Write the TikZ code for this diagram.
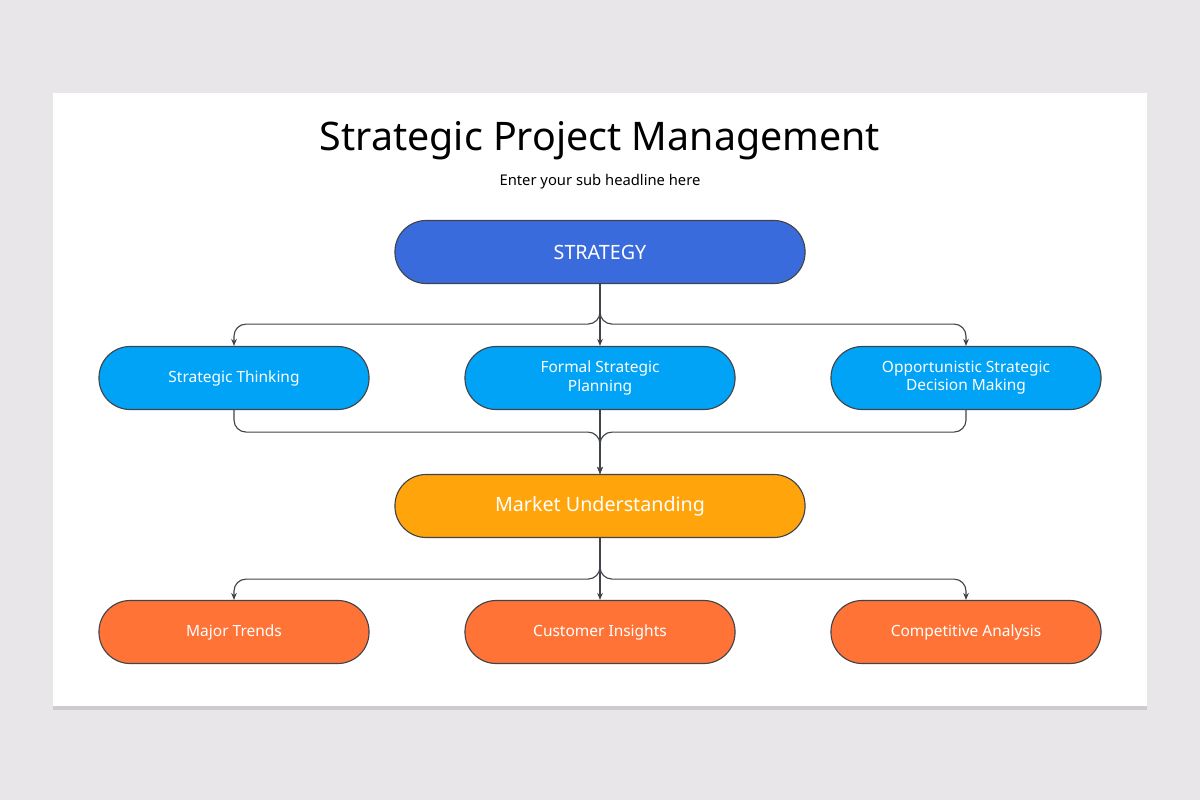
\documentclass[tikz,border=0pt]{standalone}
\usepackage{fontspec}
\setmainfont{Noto Sans}
\usetikzlibrary{positioning,shadows,arrows.meta}
\definecolor{bgGray}{HTML}{E8E6E8}
\definecolor{stratBlue}{HTML}{3A6BDD}
\definecolor{skyBlue}{HTML}{00A3F5}
\definecolor{amber}{HTML}{FFA40A}
\definecolor{coral}{HTML}{FF7337}
\definecolor{edgeGray}{HTML}{404448}
\tikzset{
  pill/.style={draw=edgeGray, thick, rectangle, rounded corners=0.78cm,
    minimum width=6.75cm, minimum height=1.575cm, text=white, align=center,
    font=\fontsize{11}{13}\selectfont},
  bigpill/.style={pill, minimum width=10.25cm, font=\bfseries\fontsize{14}{16}\selectfont},
  link/.style={draw=edgeGray, thick, rounded corners=0.3cm, -{Stealth[length=5pt,width=4pt]}}
}
\begin{document}
\begin{tikzpicture}[x=0.025cm,y=-0.025cm]
  % canvas and card
  \fill[bgGray] (0,0) rectangle (1200,800);
  \fill[white, drop shadow={shadow xshift=0pt,shadow yshift=-3pt,opacity=0.25}] (53,93) rectangle (1147,706);

  \node (title) at (600,141) {\fontsize{28}{32}\selectfont Strategic Project Management};
  \node (subtitle) at (600,182) {\fontsize{10.5}{12}\selectfont Enter your sub headline here};

  \node[bigpill, fill=stratBlue] (strategy) at (600,252) {STRATEGY};

  \node[pill, fill=skyBlue] (thinking) at (234,378) {Strategic Thinking};
  \node[pill, fill=skyBlue] (planning) at (600,378) {Formal Strategic\\Planning};
  \node[pill, fill=skyBlue] (decision) at (966,378) {Opportunistic Strategic\\Decision Making};

  \node[bigpill, fill=amber] (market) at (600,506) {Market Understanding};

  \node[pill, fill=coral] (trends) at (234,632) {Major Trends};
  \node[pill, fill=coral] (insights) at (600,632) {Customer Insights};
  \node[pill, fill=coral] (analysis) at (966,632) {Competitive Analysis};

  % connectors
  \draw[link] (strategy.south) -- ++(0,40) -| (thinking.north);
  \draw[link] (strategy.south) -- (planning.north);
  \draw[link] (strategy.south) -- ++(0,40) -| (decision.north);

  \draw[link] (thinking.south) -- ++(0,22) -| (market.north);
  \draw[link] (planning.south) -- (market.north);
  \draw[link] (decision.south) -- ++(0,22) -| (market.north);

  \draw[link] (market.south) -- ++(0,41) -| (trends.north);
  \draw[link] (market.south) -- (insights.north);
  \draw[link] (market.south) -- ++(0,41) -| (analysis.north);
\end{tikzpicture}
\end{document}
